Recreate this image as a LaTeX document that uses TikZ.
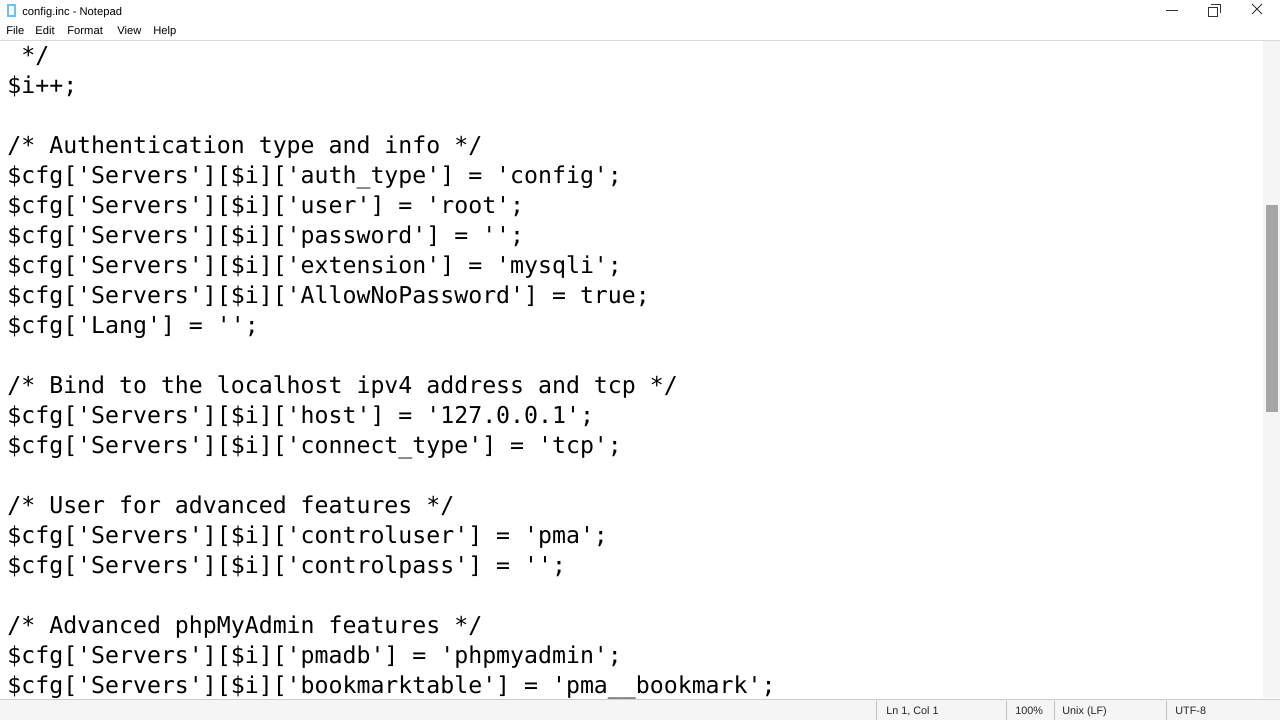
\documentclass[tikz,border=0pt]{standalone}
\usepackage{fontspec}
\setmainfont{Liberation Sans}
\newfontfamily\code{DejaVu Sans Mono}
\tikzset{codeline/.style={anchor=base west,inner sep=0pt,font=\code\fontsize{11.6pt}{12pt}\selectfont,text=black},
ui/.style={anchor=base west,inner sep=0pt,font=\fontsize{5.6pt}{6pt}\selectfont,text=black},
stat/.style={anchor=base west,inner sep=0pt,font=\fontsize{5.4pt}{6pt}\selectfont,text=black!85}}
\begin{document}
\begin{tikzpicture}[x=0.5pt,y=-0.5pt]
\useasboundingbox (0,0) rectangle (1280,720);
\fill[white] (0,0) rectangle (1280,720);
% title bar
\fill[blue!40!cyan!60] (7,4) rectangle (16,17);
\fill[white] (9,6) rectangle (14,15);
\node[ui] (title) at (22,15) {config.inc - Notepad};
\draw[black!80,line width=0.5pt] (1166,10) -- (1178,10);
\draw[black!80,line width=0.5pt] (1208,7) rectangle (1217,16);
\draw[black!80,line width=0.5pt] (1211,4) -- (1220,4) -- (1220,13);
\draw[black!80,line width=0.5pt] (1252,4) -- (1262,14) (1262,4) -- (1252,14);
% menu
\node[ui] (mfile) at (6,34) {File};
\node[ui] (medit) at (35,34) {Edit};
\node[ui] (mformat) at (67,34) {Format};
\node[ui] (mview) at (117,34) {View};
\node[ui] (mhelp) at (153,34) {Help};
\draw[black!15] (0,40) -- (1280,40);
% scrollbar
\fill[black!4] (1263,41) rectangle (1280,698);
\fill[black!35] (1266,205) rectangle (1278,412);
% code
\node[codeline] (l1) at (7,63) {\ */};
\node[codeline] (l2) at (7,93) {\$i++;};
\node[codeline] (l4) at (7,153) {/* Authentication type and info */};
\node[codeline] (l5) at (7,183) {\$cfg['Servers'][\$i]['auth\_type'] = 'config';};
\node[codeline] (l6) at (7,213) {\$cfg['Servers'][\$i]['user'] = 'root';};
\node[codeline] (l7) at (7,243) {\$cfg['Servers'][\$i]['password'] = '';};
\node[codeline] (l8) at (7,273) {\$cfg['Servers'][\$i]['extension'] = 'mysqli';};
\node[codeline] (l9) at (7,303) {\$cfg['Servers'][\$i]['AllowNoPassword'] = true;};
\node[codeline] (l10) at (7,333) {\$cfg['Lang'] = '';};
\node[codeline] (l12) at (7,393) {/* Bind to the localhost ipv4 address and tcp */};
\node[codeline] (l13) at (7,423) {\$cfg['Servers'][\$i]['host'] = '127.0.0.1';};
\node[codeline] (l14) at (7,453) {\$cfg['Servers'][\$i]['connect\_type'] = 'tcp';};
\node[codeline] (l16) at (7,513) {/* User for advanced features */};
\node[codeline] (l17) at (7,543) {\$cfg['Servers'][\$i]['controluser'] = 'pma';};
\node[codeline] (l18) at (7,573) {\$cfg['Servers'][\$i]['controlpass'] = '';};
\node[codeline] (l20) at (7,633) {/* Advanced phpMyAdmin features */};
\node[codeline] (l21) at (7,663) {\$cfg['Servers'][\$i]['pmadb'] = 'phpmyadmin';};
\node[codeline] (l22) at (7,693) {\$cfg['Servers'][\$i]['bookmarktable'] = 'pma\_\_bookmark';};
% status bar
\fill[black!4] (0,699) rectangle (1280,720);
\draw[black!20] (0,699) -- (1280,699);
\foreach \x in {876,1006,1054,1166} \draw[black!25] (\x,701) -- (\x,720);
\node[stat] (sln) at (886,714) {Ln 1, Col 1};
\node[stat] (szoom) at (1015,714) {100\%};
\node[stat] (seol) at (1062,714) {Unix (LF)};
\node[stat] (senc) at (1175,714) {UTF-8};
\end{tikzpicture}
\end{document}
